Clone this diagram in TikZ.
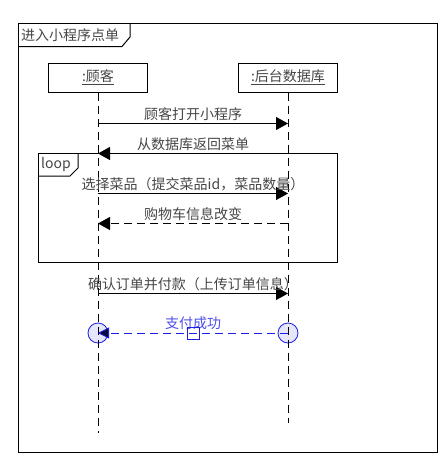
\documentclass[tikz,border=0pt]{standalone}
\usepackage{fontspec}
\setmainfont{Noto Sans CJK SC}
\usetikzlibrary{arrows.meta}
\definecolor{txt}{RGB}{70,70,70}
\definecolor{pay}{RGB}{30,30,230}
\definecolor{paytxt}{RGB}{80,80,235}
\definecolor{lav}{RGB}{230,230,250}
\begin{document}
\begin{tikzpicture}[x=1pt,y=-1pt,
  every node/.style={font=\fontsize{14}{16}\selectfont, text=txt, inner sep=0pt},
  frame/.style={draw=black, line width=1pt},
  lifebox/.style={draw=black, line width=1pt, minimum width=99pt, minimum height=29pt, fill=white},
  lifeline/.style={draw=black, line width=0.9pt, dash pattern=on 8pt off 5pt},
  msg/.style={draw=black, line width=0.9pt, -{Triangle[length=12pt,width=13pt]}},
  reply/.style={msg, dash pattern=on 8pt off 5pt},
  lbl/.style={midway, above=2pt},
  endcirc/.style={circle, draw=pay, fill=lav, line width=0.8pt, minimum size=20pt}
]
\fill[white] (0,0) rectangle (447,472);
\useasboundingbox (0,0) rectangle (447,472);
% outer frame
\draw[frame] (18.5,23.5) rectangle (437,452);
\draw[frame] (18.5,46.5) -- (122,46.5) -- (130,37) -- (130,23.5);
\node[anchor=west] (title) at (21,35) {进入小程序点单};
% lifeline heads
\node[lifebox] (cust) at (98,77.5) {\underline{:顾客}};
\node[lifebox] (db) at (288,77.5) {\underline{:后台数据库}};
\coordinate (custend) at (98,433);
\coordinate (dbend) at (288,423);
% loop frame
\draw[frame] (38.5,153.5) rectangle (337.5,262.5);
\draw[frame] (38.5,176) -- (70,176) -- (78,168) -- (78,153.5);
\node (loop) at (56,165) {loop};
% end circles
\node[endcirc] (pc) at (98,333) {};
\node[endcirc] (pd) at (288,333) {};
% lifelines
\draw[lifeline] (cust) -- (custend);
\draw[lifeline] (db) -- (dbend);
% message coordinates
\coordinate (c1) at (98,123.5);  \coordinate (d1) at (288,123.5);
\coordinate (c2) at (98,153.5);  \coordinate (d2) at (288,153.5);
\coordinate (c3) at (98,193.5);  \coordinate (d3) at (288,193.5);
\coordinate (c4) at (98,223.5);  \coordinate (d4) at (288,223.5);
\coordinate (c5) at (98,293.5);  \coordinate (d5) at (288,293.5);
\draw[msg] (c1) -- (d1) node[lbl] (l1) {顾客打开小程序};
\draw[msg] (d2) -- (c2) node[lbl] (l2) {从数据库返回菜单};
\draw[msg] (c3) -- (d3) node[lbl] (l3) {选择菜品（提交菜品id，菜品数量）};
\draw[reply] (d4) -- (c4) node[lbl] (l4) {购物车信息改变};
\draw[msg] (c5) -- (d5) node[lbl] (l5) {确认订单并付款（上传订单信息）};
% payment success
\draw[draw=pay, line width=0.8pt, dash pattern=on 8pt off 5pt,
  -{Triangle[length=11pt,width=11pt,fill=black!75!pay]}] (pd.center) -- (pc.center)
  node[midway, above=3pt, text=paytxt] (l6) {支付成功};
\node[draw=pay, line width=0.8pt, minimum size=12pt] (sq) at (193,333) {};
\end{tikzpicture}
\end{document}
